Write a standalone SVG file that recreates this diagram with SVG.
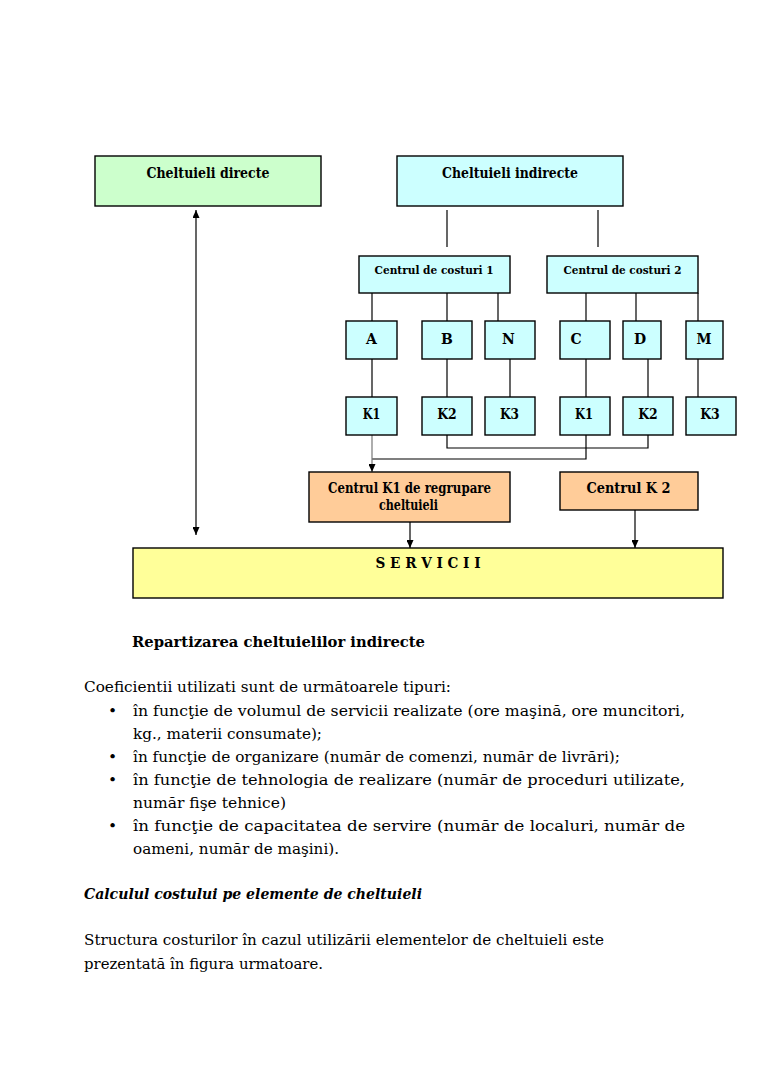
<svg xmlns="http://www.w3.org/2000/svg" width="768" height="1086" viewBox="0 0 768 1086">
<defs>
<marker id="arr" markerWidth="8" markerHeight="7" refX="8" refY="3.5" orient="auto" markerUnits="userSpaceOnUse">
<path d="M0,0 L8,3.5 L0,7 z" fill="#000"/>
</marker>
<marker id="arrs" markerWidth="8" markerHeight="7" refX="0" refY="3.5" orient="auto" markerUnits="userSpaceOnUse">
<path d="M8,0 L0,3.5 L8,7 z" fill="#000"/>
</marker>
<style>
.box{stroke:#000;stroke-width:1.4}
.g{fill:#CCFFCC}.c{fill:#CCFFFF}.p{fill:#FFCC99}.y{fill:#FFFF99}
.t{font-weight:bold;fill:#000;text-anchor:middle}
.f14{font-size:14px}.f12{font-size:11.5px}.f15{font-size:14px}
.ln{stroke:#000;stroke-width:1.2;fill:none}
.body{font-size:15.5px;fill:#000}
</style>
</defs>
<rect width="768" height="1086" fill="#fff"/>

<g id="connectors">
<line class="ln" x1="196" y1="210" x2="196" y2="535" marker-start="url(#arrs)" marker-end="url(#arr)"/>
<line class="ln" x1="447" y1="210" x2="447" y2="247"/>
<line class="ln" x1="598" y1="210" x2="598" y2="247"/>
<line class="ln" x1="372" y1="293" x2="372" y2="321"/>
<line class="ln" x1="447" y1="293" x2="447" y2="321"/>
<line class="ln" x1="498" y1="293" x2="498" y2="321"/>
<line class="ln" x1="586" y1="293" x2="586" y2="321"/>
<line class="ln" x1="636" y1="293" x2="636" y2="321"/>
<line class="ln" x1="698" y1="293" x2="698" y2="321"/>
<line class="ln" x1="372" y1="359" x2="372" y2="397"/>
<line class="ln" x1="447" y1="359" x2="447" y2="397"/>
<line class="ln" x1="510" y1="359" x2="510" y2="397"/>
<line class="ln" x1="586" y1="359" x2="586" y2="397"/>
<line class="ln" x1="648" y1="359" x2="648" y2="397"/>
<line class="ln" x1="698" y1="359" x2="698" y2="397"/>
<polyline class="ln" points="447,435 447,448 648,448 648,435"/>
<polyline class="ln" points="586,435 586,459 372,459"/>
<line x1="372" y1="435" x2="372" y2="472" stroke="#777" stroke-width="1.2" marker-end="url(#arr)"/>
<line class="ln" x1="410" y1="522" x2="410" y2="548" marker-end="url(#arr)"/>
<line class="ln" x1="635" y1="510" x2="635" y2="548" marker-end="url(#arr)"/>
</g>

<g id="diagram-nodes" font-family="DejaVu Serif, serif">
<g id="cheltuieli-directe">
<rect class="box g" x="95" y="156" width="226" height="50"/>
<text class="t f14" x="208" y="178" textLength="123" lengthAdjust="spacingAndGlyphs">Cheltuieli directe</text>
</g>
<g id="cheltuieli-indirecte">
<rect class="box c" x="397" y="156" width="226" height="50"/>
<text class="t f14" x="510" y="178" textLength="136" lengthAdjust="spacingAndGlyphs">Cheltuieli indirecte</text>
</g>
<g id="centrul-costuri-1">
<rect class="box c" x="359" y="256" width="151" height="37"/>
<text class="t f12" x="434" y="274" textLength="119" lengthAdjust="spacingAndGlyphs">Centrul de costuri 1</text>
</g>
<g id="centrul-costuri-2">
<rect class="box c" x="547" y="256" width="151" height="37"/>
<text class="t f12" x="622.5" y="274" textLength="118" lengthAdjust="spacingAndGlyphs">Centrul de costuri 2</text>
</g>
<g id="node-A"><rect class="box c" x="346" y="321" width="51" height="38"/><text class="t f15" x="371.5" y="344">A</text></g>
<g id="node-B"><rect class="box c" x="422" y="321" width="50" height="38"/><text class="t f15" x="447" y="344">B</text></g>
<g id="node-N"><rect class="box c" x="485" y="321" width="50" height="38"/><text class="t f15" x="508.5" y="344">N</text></g>
<g id="node-C"><rect class="box c" x="560" y="321" width="50" height="38"/><text class="t f15" x="576" y="344">C</text></g>
<g id="node-D"><rect class="box c" x="623" y="321" width="38" height="38"/><text class="t f15" x="640" y="344">D</text></g>
<g id="node-M"><rect class="box c" x="686" y="321" width="37" height="38"/><text class="t f15" x="704" y="344" textLength="15" lengthAdjust="spacingAndGlyphs">M</text></g>
<g id="node-K1a"><rect class="box c" x="346" y="397" width="51" height="38"/><text class="t f15" x="371.5" y="419" textLength="17.5" lengthAdjust="spacingAndGlyphs">K1</text></g>
<g id="node-K2a"><rect class="box c" x="422" y="397" width="50" height="38"/><text class="t f15" x="447" y="419" textLength="19.5" lengthAdjust="spacingAndGlyphs">K2</text></g>
<g id="node-K3a"><rect class="box c" x="485" y="397" width="50" height="38"/><text class="t f15" x="509.5" y="419" textLength="19" lengthAdjust="spacingAndGlyphs">K3</text></g>
<g id="node-K1b"><rect class="box c" x="560" y="397" width="50" height="38"/><text class="t f15" x="584" y="419" textLength="18" lengthAdjust="spacingAndGlyphs">K1</text></g>
<g id="node-K2b"><rect class="box c" x="623" y="397" width="50" height="38"/><text class="t f15" x="648" y="419" textLength="19.5" lengthAdjust="spacingAndGlyphs">K2</text></g>
<g id="node-K3b"><rect class="box c" x="686" y="397" width="50" height="38"/><text class="t f15" x="710" y="419" textLength="19.5" lengthAdjust="spacingAndGlyphs">K3</text></g>
<g id="centrul-k1">
<rect class="box p" x="309" y="472" width="201" height="50"/>
<text class="t f14" x="409.5" y="493" textLength="163" lengthAdjust="spacingAndGlyphs">Centrul K1 de regrupare</text>
<text class="t f14" x="408.5" y="510" textLength="59" lengthAdjust="spacingAndGlyphs">cheltuieli</text>
</g>
<g id="centrul-k2">
<rect class="box p" x="560" y="472" width="138" height="38"/>
<text class="t f14" x="628.5" y="493" textLength="84" lengthAdjust="spacingAndGlyphs">Centrul K 2</text>
</g>
<g id="servicii">
<rect class="box y" x="133" y="548" width="590" height="50"/>
<text class="t f14" x="428" y="568" textLength="105" lengthAdjust="spacingAndGlyphs">S E R V I C I I</text>
</g>
</g>

<g id="text" font-family="DejaVu Serif, serif">
<text class="body" x="132" y="647" font-weight="bold" font-size="16.5" textLength="293" lengthAdjust="spacingAndGlyphs">Repartizarea cheltuielilor indirecte</text>
<text class="body" x="84" y="692" textLength="367" lengthAdjust="spacingAndGlyphs">Coeficientii utilizati sunt de următoarele tipuri:</text>
<text class="body" x="108" y="715.5">•</text>
<text class="body" x="133" y="715.5" textLength="552" lengthAdjust="spacingAndGlyphs">în funcţie de volumul de servicii realizate (ore maşină, ore muncitori,</text>
<text class="body" x="133" y="738.5" textLength="189" lengthAdjust="spacingAndGlyphs">kg., materii consumate);</text>
<text class="body" x="108" y="762">•</text>
<text class="body" x="133" y="762" textLength="487" lengthAdjust="spacingAndGlyphs">în funcţie de organizare (număr de comenzi, număr de livrări);</text>
<text class="body" x="108" y="785">•</text>
<text class="body" x="133" y="785" textLength="552" lengthAdjust="spacingAndGlyphs">în funcţie de tehnologia de realizare (număr de proceduri utilizate,</text>
<text class="body" x="133" y="807.5" textLength="153" lengthAdjust="spacingAndGlyphs">număr fişe tehnice)</text>
<text class="body" x="108" y="831">•</text>
<text class="body" x="133" y="831" textLength="552" lengthAdjust="spacingAndGlyphs">în funcţie de capacitatea de servire (număr de localuri, număr de</text>
<text class="body" x="133" y="854" textLength="206" lengthAdjust="spacingAndGlyphs">oameni, număr de maşini).</text>
<text class="body" x="84" y="899" font-weight="bold" font-style="italic" font-size="16" textLength="338" lengthAdjust="spacingAndGlyphs">Calculul costului pe elemente de cheltuieli</text>
<text class="body" x="84" y="945" textLength="520" lengthAdjust="spacingAndGlyphs">Structura costurilor în cazul utilizării elementelor de cheltuieli este</text>
<text class="body" x="84" y="969" textLength="239" lengthAdjust="spacingAndGlyphs">prezentată în figura urmatoare.</text>
</g>
</svg>
